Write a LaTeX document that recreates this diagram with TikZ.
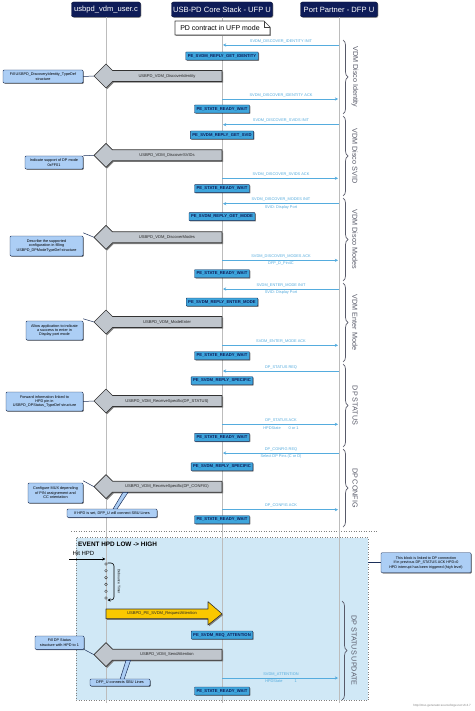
\documentclass[tikz,border=0pt]{standalone}
\usepackage{fontspec}
\setmainfont{Liberation Sans}
\usetikzlibrary{decorations.pathreplacing,arrows.meta,calc,shadows}
\definecolor{hdr}{RGB}{14,28,88}
\definecolor{pefill}{RGB}{62,165,220}
\definecolor{peline}{RGB}{28,48,90}
\definecolor{msgc}{RGB}{85,172,222}
\definecolor{notefill}{RGB}{172,206,245}
\definecolor{callfill}{RGB}{192,198,205}
\definecolor{lifec}{RGB}{188,188,188}
\definecolor{boxfill}{RGB}{208,232,246}
\definecolor{bracec}{RGB}{88,90,105}
\definecolor{yel}{RGB}{250,200,0}
\tikzset{
  hdrbox/.style={draw=hdr!60!black, fill=hdr, rounded corners=2pt, text=white,
    font=\fontsize{7.6}{9}\selectfont, minimum height=15pt, inner sep=0pt,
    drop shadow={shadow xshift=0.8pt,shadow yshift=-0.8pt,opacity=0.4,fill=black}},
  pebox/.style={draw=peline, fill=pefill, font=\fontsize{4.2}{5}\selectfont\bfseries,
    text=hdr, inner xsep=2pt, inner ysep=0pt, minimum height=8pt, rounded corners=0.5pt,
    drop shadow={shadow xshift=0.8pt,shadow yshift=-0.8pt,opacity=0.5,fill=black}},
  msg/.style={draw=msgc, line width=0.6pt, -{Stealth[length=3.2pt,width=3.2pt]}},
  lbl/.style={font=\fontsize{3.9}{4.5}\selectfont, text=msgc, inner sep=0pt},
  note/.style={draw=peline, fill=notefill, rounded corners=1pt, align=center,
    font=\fontsize{3.8}{4.4}\selectfont, inner sep=0.5pt,
    drop shadow={shadow xshift=0.8pt,shadow yshift=-0.8pt,opacity=0.5,fill=black}},
  lifeline/.style={draw=lifec, line width=0.8pt},
  callshape/.style={draw=black!80, fill=callfill, line width=0.7pt, line join=round},
  calltext/.style={font=\fontsize{4.1}{5}\selectfont, text=black!85, inner sep=0pt},
  bracedraw/.style={draw=bracec, line width=0.7pt, decorate, decoration={brace, amplitude=5pt}},
  bracetext/.style={font=\fontsize{7.2}{8}\selectfont, text=bracec, rotate=-90, inner sep=0pt},
  linkline/.style={draw=peline, line width=0.5pt}
}
\newcommand\vdmcall[3]{%
  \fill[black!50, shift={(1.2,1.2)}] (94,#2) -- (106,{#2-12}) -- (112.5,{#2-5.5}) -- (222,{#2-5.5}) -- (222,{#2+5.5}) -- (112.5,{#2+5.5}) -- (106,{#2+12}) -- cycle;
  \draw[callshape] (94,#2) -- (106,{#2-12}) -- (112.5,{#2-5.5}) -- (222,{#2-5.5}) -- (222,{#2+5.5}) -- (112.5,{#2+5.5}) -- (106,{#2+12}) -- cycle;
  \node[calltext] (#1) at (167,#2) {#3};
  \coordinate (#1tip) at (94,#2);
}
\newcommand\leftnote[6]{%
  \node[note, minimum width={#4-#2}, minimum height={#5-#3}] (#1) at ({(#2+#4)/2},{(#3+#5)/2}) {#6};
}
\newcommand\pestate[3]{%
  \node[pebox] (#1) at (222,#2) {#3};
}
\newcommand\msgleft[5]{%
  \coordinate (#1a) at (339,#2); \coordinate (#1b) at (223,#2);
  \draw[msg] (#1a) -- (#1b);
  \node[lbl] (#1l) at (281,{#2-3.8}) {#3};
  \node[lbl] (#1s) at (281,{#2+3.6}) {#4};
}
\newcommand\msgright[5]{%
  \coordinate (#1a) at (222,#2); \coordinate (#1b) at (338,#2);
  \draw[msg] (#1a) -- (#1b);
  \node[lbl] (#1l) at (281,{#2-3.8}) {#3};
  \node[lbl] (#1s) at (281,{#2+3.6}) {#4};
}
\begin{document}
\begin{tikzpicture}[x=1pt,y=-1pt]
\useasboundingbox (0,0) rectangle (474,711);
\fill[white] (0,0) rectangle (474,711);

% event block background
\draw[dotted, draw=gray, fill=boxfill, line width=0.5pt] (76,537.5) rectangle (368,700);
\draw[dotted, draw=gray, line width=0.5pt] (71,531.3) -- (377,531.3);

% headers and lifelines
\node[hdrbox, minimum width=69pt] (h1) at (106,9.5) {usbpd\_vdm\_user.c};
\node[hdrbox, minimum width=101pt] (h2) at (222,9.5) {USB-PD Core Stack - UFP U};
\node[hdrbox, minimum width=77pt] (h3) at (339,9.5) {Port Partner - DFP U};
\coordinate (e1) at (106,703);
\coordinate (e2) at (222,703);
\coordinate (e3) at (339,703);
\draw[lifeline] (h1.south) -- (e1);
\draw[lifeline] (h2.south) -- (e2);
\draw[lifeline] (h3.south) -- (e3);

% PD contract note
\fill[black!40, shift={(0.8,0.8)}] (175,21) -- (264,21) -- (270,27) -- (270,35) -- (175,35) -- cycle;
\draw[draw=black!75, fill=white, line width=0.6pt, line join=round] (175,21) -- (264,21) -- (270,27) -- (270,35) -- (175,35) -- cycle;
\draw[draw=black!75, line width=0.5pt] (264,21) -- (264,27) -- (270,27);
\node[font=\fontsize{7}{8}\selectfont, inner sep=0pt] (pdc) at (220,28.3) {PD contract in UFP mode};

% messages
\msgleft{m1}{45}{SVDM\_DISCOVER\_IDENTITY INIT}{}{}
\pestate{p1}{56}{PE\_SVDM\_REPLY\_GET\_IDENTITY}
\vdmcall{c1}{76}{USBPD\_VDM\_DiscoverIdentity}
\leftnote{n1}{3}{70}{83}{83}{Fill USBPD\_DiscoveryIdentity\_TypeDef\\structure}
\draw[linkline] (n1.east) -- (c1tip);
\msgright{m2}{99}{SVDM\_DISCOVER\_IDENTITY ACK}{}{}
\pestate{p2}{109}{PE\_STATE\_READY\_WAIT}

\msgleft{m3}{124.7}{SVDM\_DISCOVER\_SVIDS INIT}{}{}
\pestate{p3}{135}{PE\_SVDM\_REPLY\_GET\_SVID}
\vdmcall{c2}{155.3}{USBPD\_VDM\_DiscoverSVIDs}
\leftnote{n2}{25}{156}{83}{169}{Indicate support of DP mode\\0xFF01}
\draw[linkline] (n2.north east) -- (c2tip);
\msgright{m4}{178.3}{SVDM\_DISCOVER\_SVIDS ACK}{}{}
\pestate{p4}{188.7}{PE\_STATE\_READY\_WAIT}

\msgleft{m5}{203.7}{SVDM\_DISCOVER\_MODES INIT}{SVID: Display Port}{}
\pestate{p5}{216.7}{PE\_SVDM\_REPLY\_GET\_MODE}
\vdmcall{c3}{237.3}{USBPD\_VDM\_DiscoverModes}
\leftnote{n3}{10}{236}{83}{256}{Describe the supported\\configuration in filling\\USBPD\_DPModeTypeDef structure}
\draw[linkline] ($(n3.north east)+(0,-3)$) -- (c3tip);
\msgright{m6}{260.3}{SVDM\_DISCOVER\_MODES ACK}{DFP\_D\_Pin4C}{}
\pestate{p6}{273.7}{PE\_STATE\_READY\_WAIT}

\msgleft{m7}{289}{SVDM\_ENTER\_MODE INIT}{SVID: Display Port}{}
\pestate{p7}{302}{PE\_SVDM\_REPLY\_ENTER\_MODE}
\vdmcall{c4}{322}{USBPD\_VDM\_ModeEnter}
\leftnote{n4}{26}{321}{83}{340}{Allow application to indicate\\a success to enter in\\Display port mode}
\draw[linkline] ($(n4.north east)+(0,-2)$) -- (c4tip);
\msgright{m8}{345.3}{SVDM\_ENTER\_MODE ACK}{}{}
\pestate{p8}{355.7}{PE\_STATE\_READY\_WAIT}

\msgleft{m9}{371}{DP\_STATUS REQ}{}{}
\pestate{p9}{380.7}{PE\_SVDM\_REPLY\_SPECIFIC}
\vdmcall{c5}{401}{USBPD\_VDM\_ReceiveSpecific(DP\_STATUS)}
\leftnote{n5}{6}{392}{83}{411}{Forward information linked to\\HPD pin in\\USBPD\_DPStatus\_TypeDef structure}
\draw[linkline] (n5.east) -- (c5tip);
\msgright{m10}{424.3}{DP\_STATUS ACK}{HPDState\hspace{8pt}0 or 1}{}
\pestate{p10}{437.3}{PE\_STATE\_READY\_WAIT}

\msgleft{m11}{453}{DP\_CONFIG REQ}{Select DP Pins (C or D)}{}
\pestate{p11}{466.7}{PE\_SVDM\_REPLY\_SPECIFIC}
\vdmcall{c6}{486.7}{USBPD\_VDM\_ReceiveSpecific(DP\_CONFIG)}
\leftnote{n6}{28}{483}{83}{503}{Configure MUX depending\\of PIN assignement and\\CC orientation}
\draw[linkline] ($(n6.north east)+(0,-2)$) -- (c6tip);
\draw[linkline, fill=notefill] (123,492.3) -- (128,492.3) -- (117,509) -- (113,509) -- cycle;
\leftnote{s1}{67}{509}{157}{517.3}{If HPD is set, DFP\_U will connect SBU Lines}
\msgright{m12}{509.7}{DP\_CONFIG ACK}{}{}
\pestate{p12}{519.7}{PE\_STATE\_READY\_WAIT}

% braces
\draw[bracedraw] (343,40) -- (343,114);
\node[bracetext] (b1) at (355,77) {VDM Disco Identity};
\draw[bracedraw] (343,116) -- (343,196);
\node[bracetext] (b2) at (355,156) {VDM Disco SVID};
\draw[bracedraw] (343,198) -- (343,281);
\node[bracetext] (b3) at (355,239.5) {VDM Disco Modes};
\draw[bracedraw] (343,283) -- (343,362);
\node[bracetext] (b4) at (355,322.5) {VDM Enter Mode};
\draw[bracedraw] (343,364) -- (343,447);
\node[bracetext] (b5) at (355,405.5) {DP STATUS};
\draw[bracedraw] (343,449) -- (343,527);
\node[bracetext] (b6) at (355,488) {DP CONFIG};
\draw[bracedraw] (342,601) -- (342,700);
\node[bracetext] (b7) at (354,650.5) {DP STATUS UPDATE};

% event block
\node[font=\fontsize{6.4}{7}\selectfont\bfseries, anchor=west, inner sep=0pt] (ev) at (78,544.3) {EVENT HPD LOW -> HIGH};
\node[font=\fontsize{6}{7}\selectfont, inner sep=0pt] (hit) at (83.5,553.8) {Hit HPD};
\coordinate (hitA) at (69,559);
\coordinate (hitB) at (105.5,559);
\draw[black, line width=0.6pt, -{Stealth[length=3.2pt,width=3pt]}] (hitA) -- (hitB);
\foreach \k in {0,...,5} \draw[black!75, line width=0.4pt] (106,{564+6.8*\k}) circle (1.4pt);
\coordinate (dbA) at (107.5,563);
\coordinate (dbB) at (107.5,600);
\draw[black, line width=0.6pt, rounded corners=3pt, -{Stealth[length=3pt,width=3pt]}] (dbA) -- (114,563) -- (114,600) -- (dbB);
\node[font=\fontsize{3.4}{4}\selectfont, rotate=-90, inner sep=0pt] (dbt) at (119,581.5) {Debounce Timer};

\fill[black!50, shift={(1.2,1.2)}] (106,609) -- (208,609) -- (208,601.7) -- (222,613.8) -- (208,625) -- (208,618.7) -- (106,618.7) -- cycle;
\draw[draw=black!80, fill=yel, line width=0.6pt, line join=round] (106,609) -- (208,609) -- (208,601.7) -- (222,613.8) -- (208,625) -- (208,618.7) -- (106,618.7) -- cycle;
\node[calltext] (ra) at (162,613.8) {USBPD\_PE\_SVDM\_RequestAttention};

\pestate{p13}{635}{PE\_SVDM\_REQ\_ATTENTION}
\vdmcall{c7}{654.7}{USBPD\_VDM\_SendAttention}
\leftnote{n7}{35}{636}{84}{649.3}{Fill DP Status\\structure with HPD to 1}
\draw[linkline] (n7.south east) -- (c7tip);
\draw[linkline, fill=notefill] (126,660.4) -- (130.5,660.4) -- (124,679.5) -- (120,679.5) -- cycle;
\leftnote{s2}{90}{679}{150}{686}{DFP\_U connects SBU Lines}
\msgright{m13}{678}{SVDM\_ATTENTION}{HPDState\hspace{12pt}1}{}
\pestate{p14}{691}{PE\_STATE\_READY\_WAIT}

% right note
\node[note, minimum width=90pt, minimum height=20pt, font=\fontsize{3.7}{4.6}\selectfont] (rn) at (426,562.7) {This block is linked to DP connection\\If in previous DP\_STATUS ACK HPD=0\\HPD interrupt has been triggered (high level)};
\coordinate (rnA) at (368,562.7);
\draw[linkline, line width=0.7pt] (rnA) -- (rn.west);

% footer
\node[font=\fontsize{3}{3.5}\selectfont, text=black!50, anchor=east, inner sep=0pt] (foot) at (471,706) {http://msc-generator.sourceforge.net v6.3.7};
\end{tikzpicture}
\end{document}
